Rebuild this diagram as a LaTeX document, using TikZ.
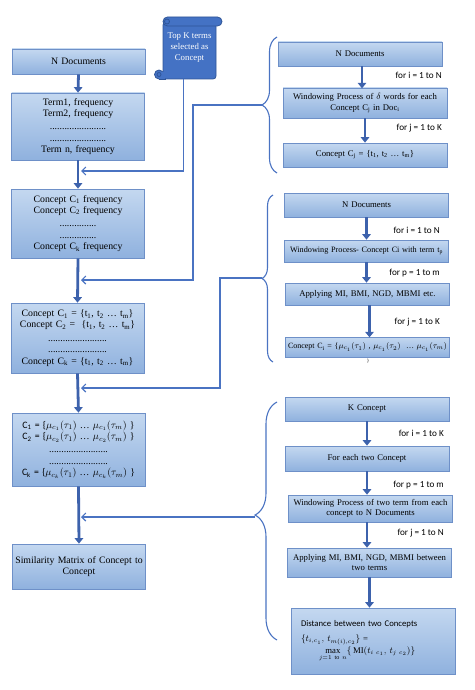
\documentclass[tikz,border=0pt]{standalone}
\usepackage{fontspec}
\setmainfont{Liberation Serif}
\newfontfamily\calfont{Carlito}
\usetikzlibrary{arrows.meta,decorations.pathreplacing}
\definecolor{boxtop}{HTML}{C4D8F0}
\definecolor{boxbot}{HTML}{8FB1DE}
\definecolor{boxline}{HTML}{6E90C8}
\definecolor{flowblue}{HTML}{3D62AC}
\definecolor{linkblue}{HTML}{4A73C2}
\definecolor{scrollfill}{HTML}{4472C4}
\definecolor{scrollline}{HTML}{2F5597}
\begin{document}
\begin{tikzpicture}[
            x=1pt, y=-1pt,
            box/.style={draw=boxline, line width=0.7pt, top color=boxtop, bottom color=boxbot, align=center, inner sep=1pt},
            lbox/.style={box, minimum width=133pt, text width=129pt, font=\fontsize{9.8}{11.4}\selectfont},
            rbox/.style={box, minimum width=164pt, text width=161pt, font=\fontsize{8.7}{10.2}\selectfont},
            looplbl/.style={anchor=east, inner sep=0pt, font=\calfont\fontsize{9.2}{10}\selectfont},
            flow/.style={draw=flowblue, line width=2.8pt, -{Triangle[length=5.5pt,width=8.5pt]}},
            link/.style={draw=linkblue, line width=1.1pt, -{Straight Barb[length=4pt,width=8pt]}},
            curly/.style={draw=linkblue, line width=1.1pt, decorate},
            scrollbody/.style={fill=scrollfill, draw=scrollline, line width=0.8pt},
        ]
            \useasboundingbox (0,0) rectangle (474,690);
            % main column
            \node[lbox, minimum height=25pt] (ldocs) at (78.5,61.5) {N Documents};
            \node[lbox, minimum height=67pt] (lterms) at (78,126.5) {Term1, frequency\\ Term2, frequency\\[2pt] .......................\\ .......................\\ Term n, frequency};
            \node[lbox, minimum height=69pt] (lfreq) at (78,223.5) {Concept C\textsubscript{1} frequency\\ Concept C\textsubscript{2} frequency\\[2pt] ...............\\ ...............\\ Concept C\textsubscript{k} frequency};
            \node[lbox, minimum height=70pt] (lsets) at (77.5,338) {Concept C\textsubscript{1} = \{t\textsubscript{1}, t\textsubscript{2} \ldots\ t\textsubscript{m}\}\\ Concept C\textsubscript{2} = \ \{t\textsubscript{1}, t\textsubscript{2} \ldots\ t\textsubscript{m}\}\\[2pt] ........................\\ ........................\\ Concept C\textsubscript{k} = \{t\textsubscript{1}, t\textsubscript{2} \ldots\ t\textsubscript{m}\}};
            \node[lbox, minimum height=73pt] (lmu) at (78.5,449.5) {{\calfont C\textsubscript{1} = \{}$\mu_{c_1}(\tau_1)$ \ldots\ $\mu_{c_1}(\tau_m)$ \}\\ {\calfont C\textsubscript{2} = \{}$\mu_{c_2}(\tau_1)$ \ldots\ $\mu_{c_2}(\tau_m)$ \}\\[2pt] ........................\\ ........................\\ {\calfont C\textsubscript{k} = \{}$\mu_{c_k}(\tau_1)$ \ldots\ $\mu_{c_k}(\tau_m)$ \}};
            \node[lbox, minimum height=45pt] (lsim) at (79,566.5) {Similarity Matrix of Concept to\\ Concept};
            \draw[flow] (ldocs.south) -- (lterms.north);
            \draw[flow] (lterms.south) -- (lfreq.north);
            \draw[flow] (lfreq.south) -- (lsets.north);
            \draw[flow] (lsets.south) -- (lmu.north);
            \draw[flow] (lmu.south) -- (lsim.north);
            % scroll
            \filldraw[scrollbody] (159,74.5) circle (4.5pt);
            \filldraw[scrollbody, rounded corners=3pt] (163,22) rectangle (216,79);
            \fill[scrollfill] (159,79.4) -- (165,79.4) -- (165,72) -- (159,72) -- cycle;
            \draw[scrollline, line width=0.8pt] (159,79) -- (166,79);
            \filldraw[scrollbody, rounded corners=4.5pt] (163,17) rectangle (222,26);
            \draw[scrollline, line width=0.8pt] (167,21.5) circle (2.5pt);
            \draw[scrollline, line width=0.8pt] (159,74.5) circle (2pt);
            \node[minimum height=62pt, inner sep=0pt, align=center, text=white, font=\fontsize{8.8}{11}\selectfont] (scroll) at (189.5,48) {Top K terms\\ selected as\\ Concept};
            % first loop
            \node[rbox, minimum height=24pt] (rdocsA) at (360,54) {N Documents};
            \node[rbox, minimum height=30pt] (rwinA) at (365,103) {Windowing Process of $\delta$ words for each\\ Concept C\textsubscript{j} in Doc\textsubscript{i}};
            \node[rbox, minimum height=24pt] (rconA) at (365,155) {Concept C\textsubscript{j} = \{t\textsubscript{1}, t\textsubscript{2} \ldots\ t\textsubscript{m}\}};
            \node[looplbl] (forA1) at (442,75) {for i = 1 to N};
            \node[looplbl] (forA2) at (442,128) {for j = 1 to K};
            \draw[flow] (rdocsA.south) ++(2,0) -- ++(0,22);
            \draw[flow] (rwinA.south) -- (rwinA.south |- rconA.north);
            % second loop
            \node[rbox, minimum height=24pt] (rdocsB) at (366.5,205) {N Documents};
            \node[rbox, minimum height=22pt, font=\fontsize{8.2}{10}\selectfont] (rwinB) at (366.5,251) {Windowing Process- Concept Ci with term t\textsubscript{p}};
            \node[rbox, minimum height=22pt] (rapplyB) at (367.5,294) {Applying MI, BMI, NGD, MBMI etc.};
            \node[rbox, minimum height=20pt, font=\fontsize{8}{9.5}\selectfont] (rconB) at (367.5,347) {Concept C\textsubscript{i} = \{$\mu_{c_1}(\tau_1)$ , $\mu_{c_1}(\tau_2)$ \ \ldots\ $\mu_{c_1}(\tau_m)$};
            \node[inner sep=0pt, font=\tiny] (rconBend) at (368,361) {\}};
            \node[looplbl] (forB1) at (440,230) {for i = 1 to N};
            \node[looplbl] (forB2) at (440,273) {for p = 1 to m};
            \node[looplbl] (forB3) at (440,322) {for j = 1 to K};
            \draw[flow] (rwinB.north |- rdocsB.south) -- (rwinB.north);
            \draw[flow] (rwinB.south) -- (rwinB.south |- rapplyB.north);
            \draw[flow] (rapplyB.south) ++(2,0) -- ++(0,32);
            % third loop
            \node[rbox, minimum height=24pt] (rkcon) at (367,409) {K Concept};
            \node[rbox, minimum height=25pt] (reach) at (367,458.5) {For each two Concept};
            \node[rbox, minimum height=27pt] (rwinC) at (370.5,508.5) {Windowing Process of two term from each\\ concept to N Documents};
            \node[rbox, minimum height=29pt] (rapplyC) at (369.5,562.5) {Applying MI, BMI, NGD, MBMI between\\ two terms};
            \node[rbox, minimum height=66pt, text width=145pt, align=left] (rdist) at (373.5,641) {{\calfont Distance between two Concepts}\\[5pt] $\{t_{i,c_1},\, t_{m(i),c_2}\}$ =\\[1pt] \hspace*{18pt}$\max\limits_{j=1\ \mathrm{to}\ n}\{\,\mathrm{MI}(t_{i\ c_1},\, t_{j\ c_2})\}$};
            \node[looplbl] (forC1) at (444,433) {for i = 1 to K};
            \node[looplbl] (forC2) at (444,485) {for p = 1 to m};
            \node[looplbl] (forC3) at (444,533) {for j = 1 to N};
            \draw[flow] (rkcon.south) -- (rkcon.south |- reach.north);
            \draw[flow] (reach.south) -- (reach.south |- rwinC.north);
            \draw[flow] (reach.south |- rwinC.south) -- (reach.south |- rapplyC.north);
            \draw[flow] (rapplyC.south) -- (rapplyC.south |- rdist.north);
            % braces
            \draw[curly, decoration={brace, amplitude=15pt}] (277,173) -- (277,37);
            \draw[curly, decoration={brace, amplitude=11pt}] (273,362) -- (273,195);
            \draw[curly, decoration={brace, amplitude=22pt, aspect=0.525}] (277,640) -- (277,402);
            \coordinate (tipA) at (262,105);
            \coordinate (tipB) at (262,278);
            \coordinate (tipC) at (255,517);
            \coordinate (kA) at (193,280);
            \coordinate (kB) at (220,388);
            \coordinate (jT) at (81,171);
            \coordinate (jA) at (81,280);
            \coordinate (jB) at (81,388);
            \coordinate (jC) at (81,517);
            \draw[link] ([xshift=-6pt]scroll.south) |- (jT);
            \draw[link] (tipA) -| (kA) -- (jA);
            \draw[link] (tipB) -| (kB) -- (jB);
            \draw[link] (tipC) -- (jC);
        \end{tikzpicture}
\end{document}
